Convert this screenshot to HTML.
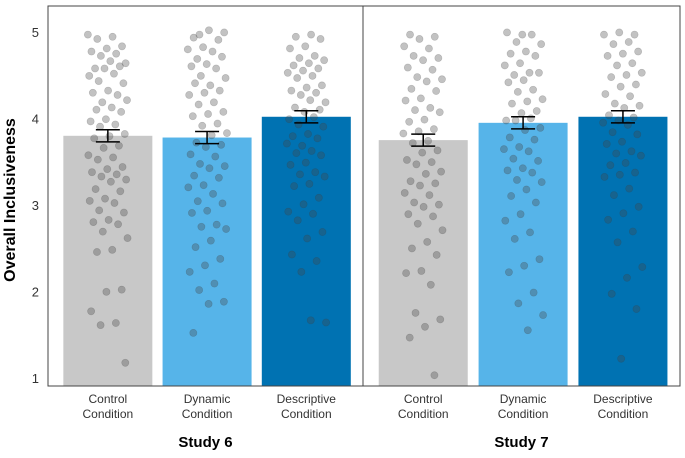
<!DOCTYPE html>
<html><head><meta charset="utf-8"><style>
body{margin:0;background:#fff;width:685px;height:453px;overflow:hidden;font-family:"Liberation Sans",sans-serif}
</style></head><body>
<svg id="chart" width="685" height="453" xmlns="http://www.w3.org/2000/svg"></svg>
<script>
const studies=["Study 6","Study 7"];
const conditions=["Control\nCondition","Dynamic\nCondition","Descriptive\nCondition"];
const means6=[3.80,3.78,4.02];
const means7=[3.75,3.95,4.02];
const se6=[0.07,0.07,0.07];
const se7=[0.07,0.07,0.07];
const yTicks=[1,2,3,4,5];
const pts6c=[5,4.95,4.9,4.85,4.8,4.8,4.75,4.7,4.65,4.65,4.6,4.6,4.55,4.5,4.5,4.45,4.4,4.35,4.3,4.25,4.2,4.2,4.15,4.1,4.05,4,3.95,3.95,3.9,3.85,3.8,3.75,3.7,3.65,3.6,3.55,3.5,3.45,3.4,3.4,3.35,3.3,3.3,3.25,3.2,3.15,3.1,3.05,3,2.95,2.9,2.85,2.8,2.75,2.7,2.6,2.5,2.45,2.05,2,1.75,1.65,1.6,1.2];
const pts6d=[5,5,5,4.95,4.9,4.85,4.8,4.75,4.7,4.7,4.65,4.6,4.55,4.5,4.45,4.4,4.4,4.35,4.3,4.25,4.2,4.15,4.1,4.05,4,3.95,3.9,3.85,3.8,3.75,3.7,3.65,3.6,3.55,3.5,3.45,3.4,3.35,3.3,3.25,3.2,3.1,3.05,3,2.95,2.9,2.8,2.75,2.7,2.6,2.5,2.4,2.3,2.2,2.1,2,1.9,1.85,1.55];
const pts6x=[5,4.95,4.9,4.85,4.8,4.75,4.7,4.65,4.65,4.6,4.6,4.55,4.5,4.5,4.45,4.4,4.35,4.35,4.3,4.25,4.2,4.2,4.15,4.1,4.05,4,4,3.95,3.9,3.85,3.8,3.75,3.7,3.7,3.65,3.6,3.55,3.5,3.45,3.4,3.35,3.3,3.25,3.2,3.1,3,2.95,2.9,2.8,2.7,2.6,2.45,2.35,2.2,1.65,1.65];
const pts7c=[5,4.95,4.9,4.85,4.8,4.75,4.7,4.65,4.6,4.55,4.5,4.45,4.4,4.35,4.3,4.25,4.2,4.15,4.1,4.05,4,3.95,3.9,3.85,3.8,3.75,3.7,3.65,3.6,3.55,3.5,3.45,3.4,3.35,3.3,3.25,3.2,3.15,3.1,3.05,3,2.95,2.9,2.85,2.8,2.7,2.6,2.5,2.4,2.25,2.2,2.1,1.75,1.65,1.6,1.45,1.05];
const pts7d=[5,5,4.95,4.9,4.85,4.8,4.75,4.7,4.65,4.6,4.55,4.5,4.5,4.45,4.4,4.35,4.3,4.25,4.2,4.15,4.1,4.05,4,4,3.95,3.9,3.85,3.8,3.75,3.7,3.65,3.6,3.55,3.5,3.45,3.4,3.35,3.3,3.25,3.2,3.1,3,2.9,2.8,2.7,2.6,2.4,2.3,2.2,2,1.85,1.75,1.55];
const pts7x=[5,5,4.95,4.9,4.85,4.8,4.75,4.7,4.65,4.6,4.55,4.5,4.45,4.4,4.35,4.3,4.25,4.2,4.15,4.1,4.05,4,4,3.95,3.9,3.85,3.8,3.75,3.7,3.65,3.6,3.55,3.5,3.45,3.4,3.35,3.3,3.2,3.1,3,2.9,2.8,2.7,2.55,2.3,2.15,2,1.8,1.2];
const colors=["#c8c8c8","#56b4e9","#0072b2"];
const svg=document.getElementById('chart');
const NS="http://www.w3.org/2000/svg";
function mk(t,a,p){const e=document.createElementNS(NS,t);for(const k in a)e.setAttribute(k,a[k]);(p||svg).appendChild(e);return e;}
const plotTop=6,plotBottom=386;
function y(v){return 378-(v-1)*86.5;}
const panels=[{x0:48,x1:363,means:means6,se:se6,pts:[pts6c,pts6d,pts6x]},{x0:363,x1:680,means:means7,se:se7,pts:[pts7c,pts7d,pts7x]}];
yTicks.forEach(t=>{const e=mk('text',{x:39,y:y(t)+5,'text-anchor':'end','font-size':'13',fill:'#333'});e.textContent=t;

});
const yt=mk('text',{x:0,y:0,transform:'translate(15,200) rotate(-90)','text-anchor':'middle','font-size':'16','font-weight':'bold',fill:'#000'});
yt.textContent='Overall Inclusiveness';


panels.forEach((p,pi)=>{
 const g=mk('g',{});
 
 
 const w=(p.x1-p.x0);const bw=89;
 p.means.forEach((m,i)=>{
  const cx=p.x0+w*(0.19+0.315*i);
  const b=mk('rect',{x:cx-bw/2,y:y(m),width:bw,height:plotBottom-y(m),fill:colors[i]},g);
  
  
  p.pts[i].forEach((v,k)=>{
   const jx=((k*0.618034+i*0.31+pi*0.17)%1)-0.5;
   const jy=(((k*0.41421)%1)-0.5)*0.06;
   const c=mk('circle',{cx:cx+jx*40,cy:y(v+jy),r:3.6,fill:'rgba(70,70,70,0.33)',stroke:'rgba(60,60,60,0.25)','stroke-width':0.6},g);
   
   
  });
  const e1=y(m+p.se[i]),e2=y(m-p.se[i]);
  const eb=mk('path',{d:`M${cx-12},${e1}H${cx+12}M${cx},${e1}V${e2}M${cx-12},${e2}H${cx+12}`,stroke:'#000','stroke-width':1.5,fill:'none'},g);
  
  
  conditions[i].split('\n').forEach((s,li)=>{const t=mk('text',{x:cx,y:403+li*15,'text-anchor':'middle','font-size':'12',fill:'#333'},g);t.textContent=s;
  
  });
 });
 const fr=mk('rect',{x:p.x0,y:plotTop,width:w,height:plotBottom-plotTop,fill:'none',stroke:'#444','stroke-width':1},g);
 
 
 const st=mk('text',{x:(p.x0+p.x1)/2,y:447,'text-anchor':'middle','font-size':'15','font-weight':'bold',fill:'#000'},g);
 st.textContent=studies[pi];
 
 
});
</script>
</body></html>
